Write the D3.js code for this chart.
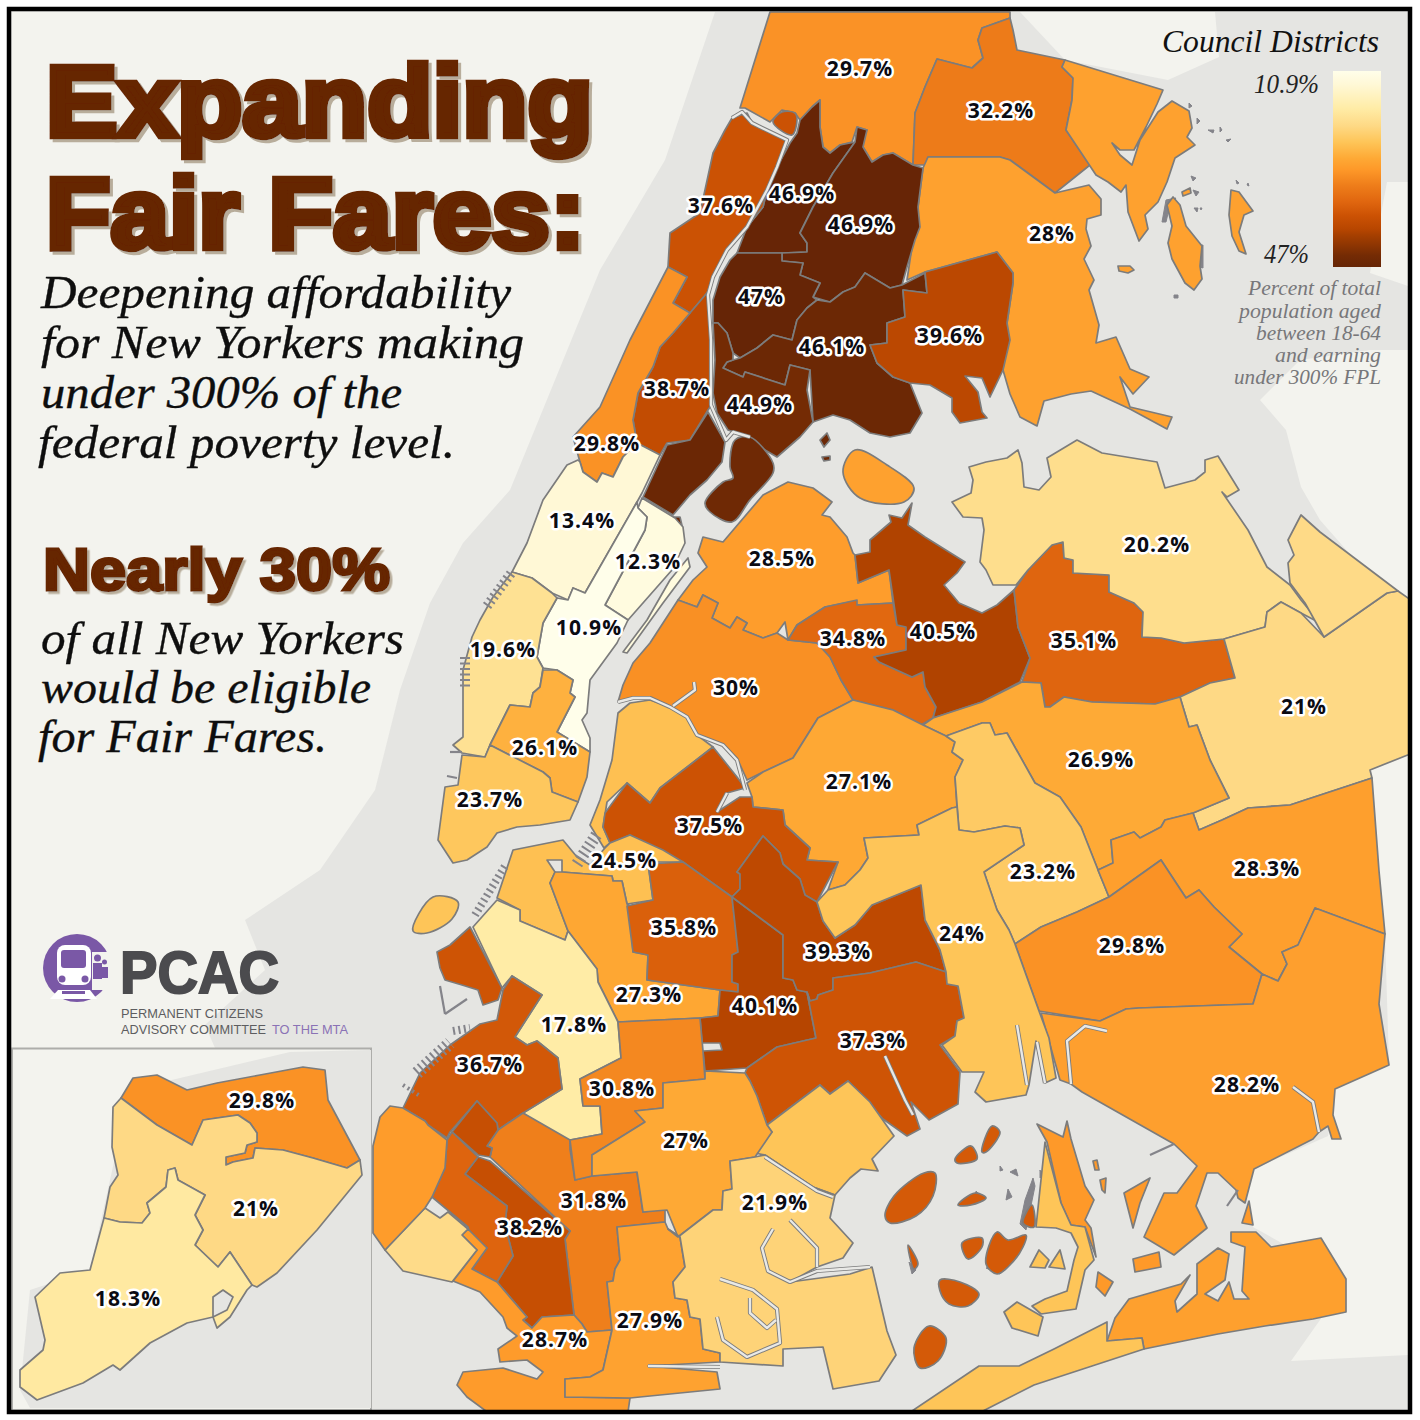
<!DOCTYPE html>
<html><head><meta charset="utf-8">
<script src="https://cdn.jsdelivr.net/npm/d3@7"></script>
<style>html,body{margin:0;padding:0;background:#fff}svg{display:block}</style>
</head><body><svg id="chart" width="1420" height="1420"></svg>
<script>
// ---------- data ----------
const districts = ["BxNW","BxNE","BxE","BxW1","BxE1","Bx47","Bx461","Bx449","Bx396","Wash","Harl","UWS","Marble","HarlA","HarlB","UES","MidE","Midtown","Roos","Vill","LES","FiDi","Astoria","LIC","Sunny","Jack","Coro","Flush","FlushS","NE","LN","Fresh","Kew","Wood","RP","Ja1","Ja2","Ja3","Bush","BrkN","BedS","ENY","Bwn","CanE","Crown","Flat","Heights","Hill","Sunset","Borough","ParkA","Bay","Dyker","Coney","Mid","Sheeps","Canarsie","Cany","Ridge","Rock","Rock24","BroadA","BroadB","Gov","Rikers","SI1","SI2","SI3"];
const values = [29.7,32.2,28,46.9,46.9,47,46.1,44.9,39.6,37.6,38.7,29.8,37.6,46.2,45.6,13.4,12.3,10.9,12.3,19.6,26.1,23.7,28.5,24.5,30,34.8,40.5,35.1,20.2,21,20.8,26.9,27.1,23.2,28.3,29.8,28.2,37.5,24.5,27.3,35.8,40.1,39.3,37.3,24,24,17.8,37.2,36.7,31.8,30.8,27,38.2,35.2,28.7,27.9,21.9,20.6,28.6,28.1,24,29,24,24,28,29.8,21,18.3];
const labelled = {BxNW:[860,68],BxNE:[1001,110],BxE:[1052,233],Wash:[721,205],BxW1:[802,193],BxE1:[861,224],Bx47:[761,296],Bx396:[950,335],Bx461:[832,346],Harl:[677,388],Bx449:[760,404],UWS:[607,443],UES:[582,520],MidE:[648,561],Astoria:[782,558],FlushS:[1157,544],Midtown:[589,627],Jack:[853,638],Coro:[943,631],Flush:[1084,640],Vill:[503,649],Sunny:[736,687],NE:[1304,706],LES:[545,747],Fresh:[1101,759],Kew:[859,781],FiDi:[490,799],Ja3:[710,825],Bush:[624,860],Wood:[1043,871],RP:[1267,868],BedS:[684,927],Crown:[962,933],Ja1:[1132,945],Bwn:[838,951],BrkN:[649,994],ENY:[765,1005],Heights:[574,1024],CanE:[873,1040],Sunset:[490,1064],Ja2:[1247,1084],ParkA:[622,1088],Bay:[686,1140],Canarsie:[775,1202],Borough:[594,1200],Dyker:[530,1227],Sheeps:[650,1320],Mid:[555,1339],SI1:[262,1100],SI2:[256,1208],SI3:[128,1298]};
const legendDomain = [10.9,47];
const colorStops = [10.9,13.4,17.8,21,24,27,29,32,35,37.5,40,41,44.9,47];
const colorRange = ["#fffeea","#fff8d6","#ffeca6","#fed985","#fec558","#fea935","#fe9929","#ee7d1a","#e0660f","#cc5204","#b84600","#a84000","#742b04","#662506"];
const noteLines = ["Percent of total","population aged","between 18-64","and earning","under 300% FPL"];
const roundedShapes = ["Gov","Rikers","HarlB","Marble"];

const boundary = {
BxNW:["770,12 1010,12 1010,18 982,28 978,40 983,58 972,68 937,59 925,87 915,113 913,165 893,153 883,155 872,162 863,147 857,142 867,130 857,127 852,142 840,145 830,153 823,147 820,127 820,100 812,107 800,120 795,113 782,110 770,122 745,108 740,108"],
BxNE:["1010,18 1013,30 1017,50 1065,60 1062,67 1073,78 1072,100 1066,130 1090,165 1055,193 1010,160 1000,157 928,157 925,165 913,165 915,113 925,87 937,59 972,68 983,58 978,40 982,28"],
BxE:["928,157 1000,157 1010,160 1055,193 1089,185 1101,199 1101,215 1087,219 1086,229 1091,246 1084,259 1094,280 1089,290 1099,325 1096,343 1116,337 1130,369 1149,377 1133,394 1120,377 1130,407 1172,417 1167,429 1130,409 1091,391 1071,394 1044,401 1037,426 1020,417 1010,394 1003,370 1007,323 1013,283 1013,273 997,252 925,272 907,280 918,207 923,168",
 "1065,60 1163,90 1157,104 1146,127 1134,150 1120,150 1112,143 1120,155 1132,165 1140,140 1158,112 1172,101 1189,111 1192,128 1187,137 1195,145 1175,158 1167,182 1158,202 1145,215 1148,229 1139,241 1128,212 1126,185 1121,192 1108,182 1096,175 1090,166 1066,130 1072,100 1073,78 1062,67",
 "1173,197 1180,205 1186,226 1202,246 1200,266 1202,279 1194,290 1185,283 1172,259 1168,243 1172,226 1167,205",
 "1231,190 1239,192 1253,211 1244,215 1239,232 1246,254 1239,251 1232,236 1229,215",
 "1118,266 1130,266 1134,270 1128,273 1119,271","1182,192 1190,188 1191,193 1183,196"],
BxW1:["797,133 800,120 812,107 820,100 820,127 823,147 830,153 840,145 855,142 833,173 813,207 800,233 807,243 807,252 782,253 737,253 747,227 763,207 767,190 777,167 790,143"],
BxE1:["855,142 857,127 867,130 863,147 872,162 883,155 893,153 913,165 923,168 918,207 920,227 915,240 907,267 902,285 890,288 865,273 855,287 843,292 830,302 813,297 820,283 800,275 803,263 782,261 782,253 807,252 807,243 800,233 813,207 833,173"],
Bx47:["737,253 782,253 782,261 803,263 800,275 820,283 813,297 817,300 807,308 797,320 792,340 773,335 757,348 740,358 733,353 727,333 718,323 713,323 713,300 720,277 730,260"],
Bx461:["902,285 925,273 927,293 903,290 905,317 887,323 887,343 870,345 877,363 893,377 910,383 922,413 910,433 890,437 870,433 850,420 833,415 813,422 810,370 790,365 785,385 745,372 743,377 723,368 727,362 733,360 740,358 757,348 773,335 792,340 797,320 807,308 817,300 830,302 843,292 855,287 865,273 890,288",
 "820,440 827,433 830,440 824,447","822,457 830,456 830,460 824,461"],
Bx449:["713,323 718,323 727,333 733,353 733,360 727,362 723,368 743,377 745,372 785,385 790,365 810,370 807,390 813,422 800,437 777,457 760,447 750,437 737,433 728,430 717,413 713,393 715,360"],
Bx396:["925,272 997,252 1013,273 1013,283 1007,323 1010,340 1003,370 990,397 982,378 965,376 978,392 982,412 987,418 960,423 952,412 952,398 930,385 910,383 893,377 877,363 870,345 887,343 887,323 905,317 903,290 927,293"],
Wash:["732,118 747,113 752,123 760,127 787,140 777,167 767,190 763,207 747,227 727,250 713,277 707,293 690,313 673,303 687,277 668,267 670,233 700,213 713,153 725,130"],
Harl:["707,293 710,320 710,407 708,410 690,440 667,443 660,455 637,443 633,420 638,393 653,367 660,347 673,333 690,313"],
UWS:["668,267 687,277 673,303 690,313 673,333 660,347 653,367 638,393 633,420 637,443 623,457 613,477 602,473 597,482 583,472 580,462 573,437 600,407 630,340"],
Marble:["773,122 782,112 795,113 797,120 792,135"],
HarlA:["708,412 725,442 722,462 707,480 690,495 673,515 643,497 660,460 667,445 690,440","674,517 680,517 683,530 677,527"],
HarlB:["735,440 750,437 773,463 773,473 750,500 732,522 710,512 705,503 723,482 733,478 730,467"],
UES:["578,460 580,462 583,472 597,482 602,473 613,477 623,457 637,443 660,455 642,493 637,502 585,593 573,588 568,600 552,593 532,578 512,572 527,543 543,500 567,465"],
MidE:["645,530 647,517 638,508 642,498 675,518 683,527 685,543 672,570 628,620 605,605"],
Midtown:["637,502 638,508 647,517 645,530 605,605 628,620 617,643 590,680 587,713 582,720 590,738 590,752 557,732 575,697 570,693 573,680 557,670 543,668 537,657 543,623 557,598 568,600 573,588 585,593"],
Roos:["688,558 690,567 663,603 627,653 623,652 647,620 670,580"],
Vill:["512,572 532,578 552,593 557,598 543,623 537,657 543,668 540,687 533,693 530,707 510,705 490,745 485,757 462,753 453,745 463,737 463,670 472,637 480,620 493,597"],
LES:["543,670 557,670 573,680 570,693 575,697 557,732 590,752 587,777 578,802 552,792 550,778 543,772 490,745 510,705 530,707 533,693 540,687"],
FiDi:["462,755 485,757 490,745 543,772 550,778 552,792 578,802 570,820 540,825 517,827 497,833 487,847 467,860 453,863 438,840 445,787 458,785"],
Astoria:["678,600 697,607 703,595 718,603 712,618 730,628 737,617 747,623 743,630 763,638 777,633 785,622 788,640 797,625 825,607 850,602 857,605 893,603 889,570 858,583 855,555 853,553 847,537 830,517 822,515 832,502 813,488 788,482 763,495 723,542 703,537 698,553 707,567 693,580"],
LIC:["618,713 630,703 650,700 670,707 687,717 697,735 713,747 660,788 650,803 627,783 607,802 603,827 610,843 604,848 590,825 600,800 612,760"],
Sunny:["678,600 697,607 703,595 718,603 712,618 730,628 737,617 747,623 743,630 763,638 777,633 788,640 817,643 830,657 841,680 853,700 818,718 793,758 763,772 747,780 737,758 723,745 697,735 687,717 670,707 650,698 633,698 618,702 623,685 633,663 650,643"],
Jack:["788,640 797,625 825,607 857,600 857,605 893,603 897,625 906,627 906,650 874,657 879,662 912,677 923,672 925,687 936,707 933,718 921,725 893,710 853,700 841,680 830,657 817,643"],
Coro:["912,503 902,518 889,515 891,522 870,540 870,552 855,555 858,583 889,570 897,625 906,627 906,650 874,657 879,662 912,677 923,672 925,687 936,707 933,718 982,702 1020,682 1030,658 1018,627 1014,590 997,605 982,613 959,603 944,585 957,573 965,562 925,537 908,525"],
Flush:["1014,590 1028,570 1052,545 1063,542 1064,558 1073,560 1073,573 1109,575 1109,592 1134,603 1143,612 1142,637 1161,638 1184,643 1224,639 1235,678 1210,683 1180,697 1155,704 1092,702 1064,697 1050,707 1045,707 1041,683 1022,682 1030,658 1018,627"],
FlushS:["952,502 971,493 973,480 969,467 986,462 1007,458 1018,450 1022,463 1024,487 1039,490 1051,477 1047,458 1077,440 1102,453 1157,462 1165,488 1195,480 1205,472 1205,460 1218,456 1239,490 1227,497 1222,492 1248,530 1267,567 1290,585 1301,600 1320,623 1301,613 1281,602 1267,612 1265,627 1224,639 1184,643 1161,638 1142,637 1143,612 1134,603 1109,592 1109,575 1073,573 1073,560 1064,558 1063,542 1052,545 1028,570 1016,585 993,585 986,570 980,562 984,530 982,518 963,517"],
NE:["1224,639 1265,627 1267,612 1281,602 1301,613 1324,637 1387,593 1398,591 1415,603 1415,752 1370,770 1372,778 1290,805 1248,808 1222,820 1199,830 1193,813 1229,798 1210,760 1197,725 1189,727 1180,697 1210,683 1235,678"],
LN:["1301,515 1288,540 1294,555 1288,563 1290,583 1305,603 1324,637 1387,593 1398,591 1320,532"],
Fresh:["1022,682 1041,683 1045,707 1050,707 1064,697 1092,702 1155,704 1180,697 1189,727 1197,725 1210,760 1229,798 1193,813 1165,820 1161,827 1140,838 1134,832 1111,840 1113,863 1098,870 1081,827 1060,797 1035,783 1007,733 995,735 990,723 982,723 946,736 923,725 933,718 982,702"],
Kew:["853,700 893,710 923,725 946,736 955,742 952,752 963,760 955,777 957,807 952,808 917,825 919,835 864,838 868,858 860,870 845,885 828,890 838,862 807,860 810,848 785,825 783,810 753,807 752,797 747,783 763,772 793,758 818,718"],
Wood:["946,736 982,723 990,723 995,735 1007,733 1035,783 1060,797 1081,827 1098,870 1109,897 1077,912 1041,927 1015,944 1009,930 997,910 984,872 1024,845 1020,828 1005,826 974,832 959,830 955,777 963,760 952,752 955,742"],
RP:["1098,870 1113,863 1111,840 1134,832 1140,838 1161,827 1165,820 1193,813 1199,830 1222,820 1248,808 1290,805 1372,778 1379,871 1385,934 1315,908 1298,945 1282,952 1287,964 1278,981 1262,974 1229,947 1242,934 1214,907 1199,890 1186,898 1161,860 1109,897"],
Ja1:["1015,944 1041,927 1077,912 1109,897 1161,860 1186,898 1199,890 1214,907 1242,934 1229,947 1262,974 1253,1004 1139,1008 1126,1009 1100,1021 1039,1011"],
Ja2:["1315,908 1385,934 1379,1004 1389,1065 1335,1089 1333,1115 1341,1139 1332,1139 1328,1126 1319,1132 1313,1139 1254,1169 1245,1203 1238,1198 1236,1190 1218,1173 1207,1173 1196,1206 1207,1228 1174,1255 1144,1237 1164,1193 1177,1193 1197,1166 1174,1144 1082,1092 1071,1084 1060,1080 1041,1013 1100,1021 1126,1009 1139,1008 1253,1004 1262,974 1278,981 1287,964 1282,952 1298,945"],
Ja3:["605,813 627,783 650,803 660,788 713,747 737,777 745,788 727,793 717,812 740,797 752,797 753,807 783,810 785,825 810,848 807,860 838,862 817,902 805,895 800,879 783,864 780,853 763,836 737,872 740,874 740,889 732,897 683,862 630,835 610,843 603,827"],
Bush:["513,850 563,840 577,857 590,865 605,848 610,843 630,835 663,850 683,862 648,862 653,900 627,904 622,881 613,881 612,876 562,872 562,860 547,860 555,872 550,883 568,931 565,940 520,921 520,910 497,898"],
BrkN:["550,883 555,872 562,872 612,876 613,881 622,881 627,904 630,906 633,952 648,955 647,980 720,990 718,1016 700,1018 618,1022 598,982 597,969 568,931"],
BedS:["627,906 653,900 648,864 683,862 732,897 738,952 732,955 732,982 738,984 738,992 720,990 647,980 648,955 633,952"],
ENY:["732,897 783,935 783,978 793,980 797,990 807,992 816,1038 777,1047 747,1068 705,1071 703,1051 722,1050 720,1043 702,1043 700,1018 718,1016 720,990 738,992 738,984 732,982 732,955 738,952"],
Bwn:["763,836 780,853 783,864 800,879 805,895 817,902 823,921 835,938 855,925 872,905 921,885 925,920 940,950 946,972 916,962 870,973 833,978 833,990 818,995 817,999 810,1001 807,992 797,990 793,980 783,978 783,935 732,897 740,889 740,874 737,872"],
CanE:["816,1038 807,992 810,1001 817,999 818,995 833,990 833,978 870,973 916,962 946,972 947,984 958,986 964,1018 957,1021 955,1036 940,1045 960,1072 958,1104 929,1120 911,1102 920,1129 907,1136 883,1119 865,1099 850,1083 848,1081 830,1094 820,1085 767,1125 757,1096 750,1081 745,1073 747,1068 777,1047"],
Crown:["864,838 919,835 917,825 952,808 957,807 959,830 974,832 1005,826 1020,828 1024,845 984,872 997,910 1009,930 1015,944 1039,1011 1049,1038 1056,1078 1045,1083 1036,1041 1029,1085 1026,1095 986,1102 975,1092 984,1072 962,1072 942,1045 955,1036 957,1021 964,1018 958,986 947,984 946,972 940,950 925,920 921,885 872,905 855,925 835,938 823,921 817,902 828,890 845,885 860,870 868,858"],
Flat:["767,1125 820,1085 830,1094 848,1081 870,1102 894,1136 872,1159 878,1171 861,1169 850,1178 835,1195 813,1187 765,1155 755,1153 772,1132"],
Heights:["473,927 497,900 520,910 520,921 565,940 568,931 597,969 598,982 618,1022 621,1058 580,1079 583,1106 600,1106 602,1134 570,1140 570,1149 523,1113 562,1089 558,1058 537,1041 527,1045 515,1037 542,995 512,976 502,988"],
Hill:["470,927 502,988 498,1000 483,1005 478,990 462,985 445,980 440,968 437,952 450,945"],
Sunset:["512,976 542,995 515,1037 527,1045 537,1041 558,1058 562,1089 523,1113 498,1130 497,1123 477,1101 450,1132 447,1138 428,1125 425,1121 403,1108 420,1073 450,1045 480,1024 497,1020 503,990"],
Borough:["570,1149 570,1140 523,1113 498,1130 487,1146 492,1148 490,1157 570,1231 565,1239 574,1315 582,1324 587,1332 612,1330 607,1282 613,1281 615,1269 620,1260 617,1227 665,1222 665,1209 643,1212 637,1172 592,1176 575,1180"],
ParkA:["580,1079 621,1058 618,1022 700,1018 703,1051 705,1079 663,1083 663,1108 635,1111 645,1122 592,1155 592,1176 575,1180 570,1140 602,1134 600,1106 583,1106"],
Bay:["705,1079 705,1071 745,1073 750,1081 757,1096 767,1125 772,1132 755,1157 730,1161 732,1189 723,1191 722,1210 713,1210 678,1237 667,1210 643,1212 637,1172 592,1176 592,1155 645,1122 635,1111 663,1108 663,1083"],
Dyker:["477,1101 497,1123 498,1130 487,1146 492,1148 490,1157 478,1155 452,1132","478,1157 465,1174 507,1206 505,1225 513,1256 497,1282 527,1317 523,1320 532,1328 542,1317 574,1315 565,1239 570,1231 490,1161"],
Coney:["452,1132 478,1157 465,1174 507,1206 505,1225 513,1256 497,1282 472,1269 487,1248 470,1233 468,1227 432,1197 445,1168 447,1140"],
Mid:["468,1229 487,1248 472,1269 497,1282 527,1317 523,1320 532,1328 542,1317 574,1315 582,1324 587,1332 612,1330 603,1370 590,1377 565,1379 565,1397 630,1398 628,1412 490,1414 467,1397 457,1385 463,1372 503,1368 537,1379 543,1372 527,1360 500,1362 498,1349 517,1336 507,1328 503,1317 480,1292 453,1281 477,1250 462,1235"],
Sheeps:["665,1222 617,1227 620,1260 615,1269 613,1281 607,1282 612,1330 603,1370 590,1377 565,1379 565,1397 630,1398 720,1389 717,1372 648,1366 720,1362 720,1353 703,1349 700,1319 690,1317 687,1300 675,1298 673,1282 685,1267 680,1237 668,1229"],
Canarsie:["678,1237 713,1210 722,1210 723,1191 732,1189 730,1161 755,1157 765,1155 813,1187 835,1195 830,1218 853,1243 843,1258 817,1267 790,1282 850,1274 872,1267 887,1331 896,1355 879,1381 833,1389 823,1347 783,1349 783,1366 720,1362 720,1353 703,1349 700,1319 690,1317 687,1300 675,1298 673,1282 685,1267 680,1237 668,1229"],
Cany:["425,1208 440,1218 448,1212 468,1229 462,1235 477,1250 452,1282 403,1271 385,1250"],
Ridge:["390,1106 403,1108 425,1121 428,1125 447,1140 445,1168 432,1197 425,1208 385,1250 373,1233 373,1146 380,1117"],
Rock:["1107,1341 1115,1318 1129,1299 1181,1284 1190,1275 1175,1301 1177,1312 1197,1294 1197,1264 1218,1248 1229,1254 1225,1280 1205,1294 1218,1301 1229,1282 1234,1299 1249,1299 1242,1291 1245,1247 1231,1242 1231,1232 1256,1232 1271,1247 1321,1238 1346,1279 1346,1312 1313,1319 1265,1326 1218,1334 1144,1349 1142,1338"],
Rock24:["909,1413 979,1366 1019,1366 1054,1349 1107,1322 1107,1341 1142,1338 1144,1349 1034,1385 979,1413"],
BroadA:["1037,1124 1063,1137 1067,1121 1071,1139 1085,1186 1094,1200 1085,1220 1091,1228 1096,1257 1085,1227 1071,1225 1061,1203 1047,1142",
 "1096,1287 1098,1272 1113,1282 1105,1296","1124,1193 1150,1178 1140,1203 1133,1228","1093,1161 1097,1160 1099,1170 1095,1170","1100,1180 1106,1178 1105,1193 1102,1190","1133,1259 1159,1252 1161,1267 1135,1272","1242,1223 1249,1201 1253,1225"],
BroadB:["1036,1227 1045,1142 1061,1203 1071,1225 1085,1227 1094,1260 1085,1270 1076,1309 1041,1314 1032,1306 1045,1299 1067,1291 1074,1260 1078,1247 1071,1233 1056,1228",
 "1030,1267 1039,1250 1049,1260 1045,1268","1049,1267 1060,1250 1065,1269","1004,1312 1017,1302 1043,1317 1038,1336 1012,1328"],
Gov:["413,931 433,897 458,902 452,919 427,933"],
Rikers:["843,472 855,450 887,465 914,488 904,502 860,498"],
SI1:["121,1098 133,1078 157,1075 187,1090 217,1083 260,1075 303,1067 325,1070 328,1100 360,1160 347,1168 313,1158 283,1150 255,1148 253,1158 233,1162 226,1165 226,1157 245,1153 247,1145 257,1142 257,1133 250,1123 238,1115 203,1120 192,1145 157,1125"],
SI2:["121,1098 157,1125 192,1145 203,1120 238,1115 250,1123 257,1133 257,1142 247,1145 245,1153 226,1157 226,1165 233,1162 253,1158 255,1148 283,1150 313,1158 347,1168 360,1160 362,1175 317,1230 277,1273 257,1287 252,1285 230,1252 218,1267 195,1245 203,1230 195,1215 205,1195 178,1180 175,1168 168,1170 166,1187 147,1203 150,1213 142,1223 120,1222 104,1218 110,1187 118,1175 112,1147 113,1107"],
SI3:["104,1218 120,1222 142,1223 150,1213 147,1203 166,1187 168,1170 175,1168 178,1180 205,1195 195,1215 203,1230 195,1245 218,1267 230,1252 252,1285 247,1290 230,1317 217,1328 213,1317 227,1310 233,1297 223,1290 213,1297 213,1317 187,1323 150,1343 120,1370 113,1365 83,1383 37,1400 20,1387 20,1370 43,1350 45,1340 35,1297 60,1273 90,1270"]
};
// Bay islands with a Jamaica Bay tint
const bayIslands = ["885,1216 894,1196 924,1173 935,1173 933,1196 916,1216 890,1223","940,1280 960,1282 979,1294 968,1306 949,1304 940,1291","914,1348 929,1326 946,1338 938,1361 920,1368","982,1152 992,1126 1000,1132 986,1152","955,1159 971,1146 977,1159 957,1163","958,1205 975,1193 986,1198 971,1205","986,1264 997,1232 1008,1240 1026,1235 1023,1247 1008,1267 997,1274","962,1243 982,1238 982,1247 968,1259","908,1245 918,1264 914,1269","1023,1223 1032,1205 1034,1227"];
const bayIslandValue = 36.5;
const gray = ["1193,190 1199,192 1196,196","1189,103 1192,106 1189,108","1197,118 1200,121 1197,124","1220,127 1222,130 1220,132","1226,140 1231,139 1228,142","1191,176 1196,178 1193,181","1194,208 1198,208 1197,212","1200,208 1202,208 1201,210","1174,295 1178,295 1178,298 1174,298","1236,180 1239,183 1237,184","1248,183 1247,185 1249,186","1208,130 1214,130 1213,133","1176,198 1170,205 1166,222 1162,222 1166,200","1195,246 1203,245 1203,268 1197,266","1000,1166 1003,1170 1000,1171","976,1191 978,1193 976,1195","1040,1170 1042,1176 1040,1178","909,1262 916,1270 912,1274","1008,1189 1012,1197 1006,1200","1025,1200 1033,1178 1035,1186 1026,1230 1020,1224","986,1268 1000,1274 1000,1267","1018,1176 1016,1169 1010,1172"];
// channels and creeks (fine water lines cut through the land)
const channels = [
 [[732,118],[742,112],[752,123],[762,128],[787,140],[777,167],[767,190],[747,227],[727,250],[713,277],[708,295],[711,340],[711,405],[726,440],[733,432],[750,437]],
 [[765,1157],[817,1191],[833,1197]],[[790,1220],[817,1248],[817,1267]],
 [[773,1229],[762,1248],[768,1271],[790,1282],[817,1271],[843,1269],[870,1267]],
 [[720,1279],[753,1290],[777,1309],[780,1343],[747,1357],[723,1340],[717,1317]],[[750,1298],[750,1313],[767,1328],[776,1320]],
 [[648,1366],[720,1367]],[[1071,1084],[1067,1041],[1085,1026],[1107,1031]],[[1293,1087],[1313,1102],[1319,1132]],
 [[1017,1025],[1027,1085]],[[1037,1042],[1045,1083]],[[885,1056],[905,1100],[913,1115]],
 [[618,702],[633,698],[650,698],[670,707],[687,717],[697,735],[723,745],[737,760],[745,790]],[[727,793],[717,812]],[[673,706],[695,690],[694,682]]];
const piers = [[[445,1014],[467,999]],[[440,986],[445,1014]],[[1174,1144],[1150,1155]],[[1227,1206],[1238,1190]],[[450,752],[462,752]],[[447,776],[457,778]]];
const combs = [[[487,606],[512,572],10],[[465,657],[465,687],10],[[475,915],[505,866],8],[[417,1073],[450,1043],13],[[403,1085],[420,1096],4],[[453,1031],[470,1028],8],[[577,864],[597,834],12]];

const landPolys = ["12,12 715,12 665,160 600,270 510,490 463,543 430,603 400,690 375,790 320,870 245,920 265,970 205,1025 215,1048 12,1048","1020,12 1215,12 1219,57 1168,80 1065,60","1408,148 1408,182 1387,182 1370,273 1408,286","1260,400 1300,360 1370,350 1408,350 1408,620 1320,520 1301,487 1286,430","1370,770 1408,752 1408,1355 1291,1361 1320,1320 1346,1279 1253,1227 1247,1196 1254,1169 1328,1136 1335,1089 1389,1065 1385,934 1379,871"];
const insetWater = "130,1090 110,1180 90,1270 30,1290 20,1390 30,1408 371,1408 371,1050 290,1052 180,1078";

// ---------- drawing ----------
const color = d3.scaleLinear().domain(colorStops).range(colorRange).clamp(true);
const parse = s => s.trim().split(/\s+/).map(p => p.split(",").map(Number));
const ring = s => { const r = parse(s); r.push(r[0]); return r; };
const projection = d3.geoIdentity();
const path = d3.geoPath(projection);
const poly = s => ({type:"Polygon",coordinates:[ring(s)]});
const smooth = d3.line().curve(d3.curveCatmullRomClosed.alpha(0.5));

const svg = d3.select("#chart");
const defs = svg.append("defs");
defs.append("clipPath").attr("id","frame").append("rect").attr("x",11).attr("y",11).attr("width",1397).attr("height",1399);
const grad = defs.append("linearGradient").attr("id","legendGrad").attr("x1",0).attr("x2",0).attr("y1",0).attr("y2",1);
colorStops.forEach(v => grad.append("stop")
  .attr("offset",(v-legendDomain[0])/(legendDomain[1]-legendDomain[0])).attr("stop-color",color(v)));
[["shadowBig",3],["shadowSmall",2.5]].forEach(([id,off])=>{
  defs.append("filter").attr("id",id).attr("x","-5%").attr("y","-10%").attr("width","110%").attr("height","125%")
    .append("feDropShadow").attr("dx",off).attr("dy",off).attr("stdDeviation",0).attr("flood-color","#b8ad9b");
});

svg.append("rect").attr("width",1420).attr("height",1420).attr("fill","#fff");
const g = svg.append("g").attr("clip-path","url(#frame)");
g.append("rect").attr("x",11).attr("y",11).attr("width",1397).attr("height",1399).attr("fill","#e5e5e2");
g.selectAll("path.land").data(landPolys).join("path").attr("class","land").attr("d",d=>path(poly(d))).attr("fill","#f3f3ee");

// inset panel
g.append("rect").attr("x",12).attr("y",1048.5).attr("width",359).attr("height",362).attr("fill","#f3f3ee").attr("stroke","#adadaa").attr("stroke-width",2);
g.append("path").attr("d",path(poly(insetWater))).attr("fill","#e5e5e2");

const rows = districts.map((id,i)=>({id,value:values[i],rings:boundary[id]||[]})).filter(d=>d.rings.length);
const features = rows.flatMap(d=>d.rings.map(r=>({...d,raw:r,geom:poly(r)})));
g.selectAll("path.gray").data(gray).join("path").attr("class","gray").attr("d",d=>path(poly(d))).attr("fill","#84848a").attr("stroke","#84848a");
g.selectAll("path.d").data(features).join("path").attr("class","d")
  .attr("d",d=>roundedShapes.includes(d.id)?smooth(parse(d.raw)):path(d.geom))
  .attr("fill",d=>color(d.value)).attr("stroke","#7c7c7c").attr("stroke-width",1.7).attr("stroke-linejoin","round");
g.selectAll("path.bi").data(bayIslands).join("path").attr("class","bi").attr("d",d=>smooth(parse(d)))
  .attr("fill",color(bayIslandValue)).attr("stroke","#7c7c7c").attr("stroke-width",1.7).attr("stroke-linejoin","round");
const line = d3.line();
g.selectAll("path.pier").data(piers).join("path").attr("class","pier").attr("d",line).attr("fill","none").attr("stroke","#84848a").attr("stroke-width",2.2);
g.selectAll("path.comb").data(combs).join("path").attr("class","comb").attr("d",d=>line(d.slice(0,2))).attr("fill","none")
  .attr("stroke","#84848a").attr("stroke-width",d=>d[2]).attr("stroke-dasharray","2 3.5");
g.selectAll("path.chO").data(channels).join("path").attr("class","chO").attr("d",line).attr("fill","none").attr("stroke","#7c7c7c").attr("stroke-width",4.2).attr("stroke-linejoin","round");
g.selectAll("path.chI").data(channels).join("path").attr("class","chI").attr("d",line).attr("fill","none").attr("stroke","#e9e9e6").attr("stroke-width",2.4).attr("stroke-linejoin","round");

// district labels
const labelData = rows.filter(d=>labelled[d.id]).map(d=>({value:d.value,at:projection(labelled[d.id])}));
g.selectAll("text.lab").data(labelData).join("text").attr("class","lab")
  .attr("x",d=>d.at[0]).attr("y",d=>d.at[1]+7.5).attr("text-anchor","middle")
  .attr("font-family","'Open Sans','Noto Sans',sans-serif").attr("font-weight",700).attr("font-size",21)
  .attr("letter-spacing",1.1).attr("fill","#0b0b12")
  .attr("stroke","#fff").attr("stroke-width",5).attr("stroke-linejoin","round").attr("paint-order","stroke")
  .text(d=>`${d.value}%`);

// titles
const brown = "#662506";
const serif = "'Liberation Serif','DejaVu Serif',serif";
function fitted(p,txt,x,y,w,size,fam,weight,style,fill,extra){
  return p.append("text").attr("x",x).attr("y",y).attr("textLength",w).attr("lengthAdjust","spacingAndGlyphs")
   .attr("font-family",fam).attr("font-size",size).attr("font-weight",weight).attr("font-style",style).attr("fill",fill).text(txt).call(extra||(()=>{}));
}
const heavy = (c,sw,f)=>s=>s.attr("stroke",c).attr("stroke-width",sw).attr("stroke-linejoin","miter").attr("filter",`url(#${f})`);
const sans = "'Liberation Sans','Arimo',sans-serif";
[["Expanding",46,136,547],["Fair Fares:",46,248,539]].forEach(([t,x,y,w])=>{
  fitted(svg,t,x,y,w,100,sans,700,"normal",brown,heavy(brown,6.5,"shadowBig"));
});
fitted(svg,"Nearly 30%",43,590,347,60,sans,700,"normal",brown,heavy(brown,3,"shadowSmall"));
[["Deepening affordability",41,308,470],["for New Yorkers making",41,358,483],["under 300% of the",41,408,361],["federal poverty level.",38,458,417],
 ["of all New Yorkers",41,654,363],["would be eligible",41,703,330],["for Fair Fares.",38,752,289]].forEach(([t,x,y,w])=>{
  fitted(svg,t,x,y,w,47,serif,400,"italic","#0e0e0e").attr("stroke","#0e0e0e").attr("stroke-width",0.35);
});

// legend
svg.append("rect").attr("x",1333).attr("y",71).attr("width",48).attr("height",196).attr("fill","url(#legendGrad)");
fitted(svg,"Council Districts",1162,52,217,32,serif,400,"italic","#111");
fitted(svg,`${legendDomain[0]}%`,1254,93,65,27,serif,400,"italic","#222");
fitted(svg,`${legendDomain[1]}%`,1264,263,45,27,serif,400,"italic","#222");
const noteY=[295,318,340,362,384], noteX=[1248,1239,1256,1275,1234];
noteLines.forEach((t,i)=>fitted(svg,t,noteX[i],noteY[i],1381-noteX[i],21,serif,400,"italic","#77777a"));

// PCAC logo
const logo = svg.append("g");
logo.append("circle").attr("cx",77).attr("cy",968).attr("r",34).attr("fill","#7a58a6");
logo.append("path").attr("d","M92 952 H111 V990 H92 Z").attr("fill","#f3f3ee");
logo.append("rect").attr("x",57).attr("y",945).attr("width",34).attr("height",40).attr("rx",8).attr("fill","#fff");
logo.append("rect").attr("x",61).attr("y",950).attr("width",25).attr("height",18).attr("rx",3).attr("fill","#7a58a6");
logo.append("circle").attr("cx",62).attr("cy",979).attr("r",3.5).attr("fill","#7a58a6");
logo.append("circle").attr("cx",85).attr("cy",979).attr("r",3.5).attr("fill","#7a58a6");
logo.append("path").attr("d","M58 990 H90 L97 999 H50 Z").attr("fill","#fff");
logo.append("rect").attr("x",62).attr("y",991).attr("width",23).attr("height",3).attr("fill","#7a58a6");
logo.append("path").attr("d","M94 958 a3.5 3.5 0 1 1 7 0 a3.5 3.5 0 1 1 -7 0 M93 963 H102 V979 H93 Z M102 962 a2.5 2.5 0 1 1 5 0 a2.5 2.5 0 1 1 -5 0 M102 967 H108 V978 H102 Z").attr("fill","#7a58a6");
fitted(logo,"PCAC",120,993,159,60,"'Liberation Sans',sans-serif",700,"normal","#4b4b4e").attr("stroke","#4b4b4e").attr("stroke-width",2);
const small = "'Liberation Sans',sans-serif";
fitted(logo,"PERMANENT CITIZENS",121,1018,142,13.5,small,400,"normal","#5d5d60");
fitted(logo,"ADVISORY COMMITTEE",121,1034,145,13.5,small,400,"normal","#5d5d60");
fitted(logo,"TO THE MTA",272,1034,76,13.5,small,400,"normal","#8a72b5");

// frame
svg.append("rect").attr("x",9).attr("y",9).attr("width",1401).attr("height",1403).attr("fill","none").attr("stroke","#000").attr("stroke-width",4.5);
</script></body></html>
